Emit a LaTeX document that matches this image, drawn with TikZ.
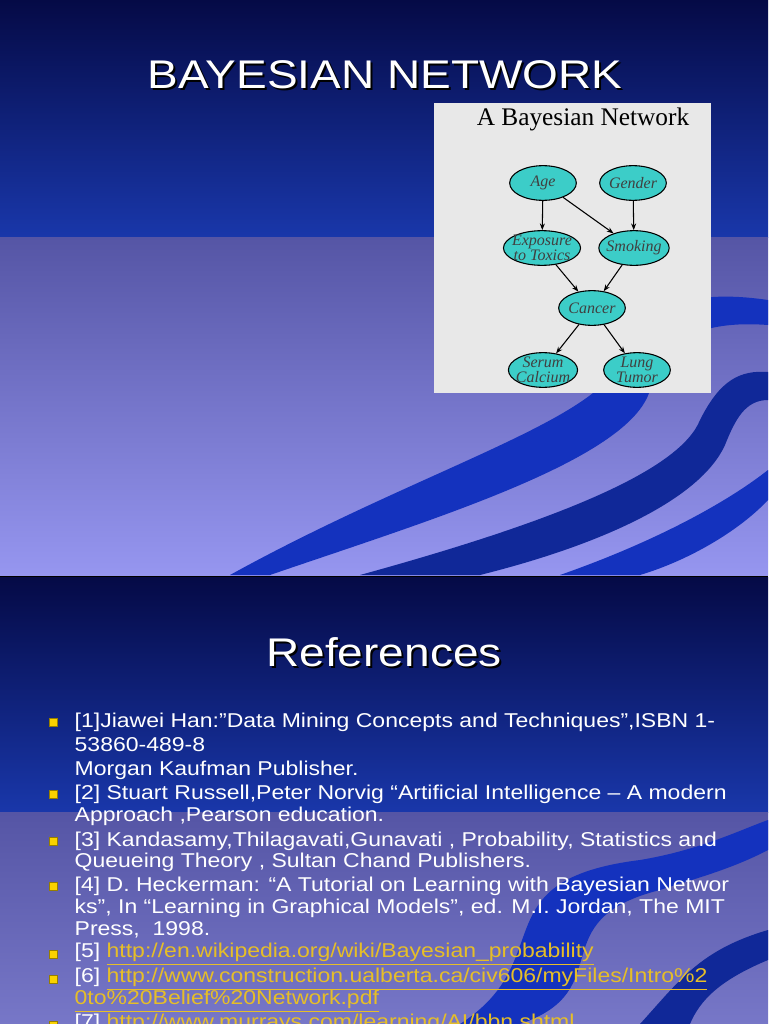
\documentclass[tikz,border=0pt]{standalone}
\usepackage{fontspec}
\setmainfont{Liberation Sans}
\newfontfamily\wide[FakeStretch=1.15]{Liberation Sans}
\newfontfamily\tms{Liberation Serif}
\usetikzlibrary{shapes.geometric,arrows.meta}
\definecolor{navyA}{RGB}{5,10,70}
\definecolor{navyB}{RGB}{25,55,170}
\definecolor{peri1}{RGB}{85,85,165}
\definecolor{peri2}{RGB}{150,150,240}
\definecolor{swoosh}{RGB}{20,50,190}
\definecolor{teal}{RGB}{60,205,200}
\definecolor{linkc}{RGB}{230,190,40}
\definecolor{bul}{RGB}{250,210,0}
\tikzset{
 bn/.style={ellipse,draw=black,thick,fill=teal,minimum width=50pt,minimum height=26pt,inner sep=-2pt,font=\tms\itshape\fontsize{12}{11}\selectfont,text=black!75,align=center},
 ar/.style={-{Stealth[length=5pt]},thick,black},
 ref/.style={anchor=west,text=white,font=\wide\fontsize{15}{16}\selectfont},
 bsq/.style={fill=bul,draw=bul!60!black,minimum size=6pt,inner sep=0pt},
 ttl/.style={text=white,font=\wide\fontsize{#1}{#1}\selectfont}
}
\begin{document}
\begin{tikzpicture}[x=0.75pt,y=-0.75pt]
\useasboundingbox (0,0) rectangle (768,1024);
\fill[black] (0,0) rectangle (768,1024);
% slide 1
\shade[top color=navyA,bottom color=navyB] (0,0) rectangle (768,237);
\shade[top color=peri1,bottom color=peri2] (0,237) rectangle (768,575);
\fill[swoosh] (230,575) .. controls (420,470) and (600,420) .. (620,360) .. controls (640,300) and (700,290) .. (768,300) -- (768,325) .. controls (700,320) and (660,340) .. (650,390) .. controls (630,460) and (430,520) .. (270,575) -- cycle;
\fill[swoosh!80!black] (360,575) .. controls (560,520) and (680,470) .. (700,420) .. controls (720,380) and (740,370) .. (768,372) -- (768,400) .. controls (745,400) and (735,420) .. (725,445) .. controls (700,500) and (600,545) .. (480,575) -- cycle;
\fill[swoosh] (560,575) .. controls (660,540) and (730,500) .. (768,470) -- (768,500) .. controls (740,530) and (690,560) .. (640,575) -- cycle;
\node[ttl=30,text=black] (t1s) at (387,77) {BAYESIAN NETWORK};
\node[ttl=30] (t1) at (385,75) {BAYESIAN NETWORK};
% inset
\fill[gray!18] (434,103) rectangle (711,393);
\node[font=\tms\fontsize{19}{19}\selectfont] (it) at (583,119) {A Bayesian Network};
\node[bn] (age) at (543,183) {Age};
\node[bn] (gen) at (633,183) {Gender};
\node[bn] (exp) at (542,248) {Exposure\\to Toxics};
\node[bn] (smk) at (634,248) {Smoking};
\node[bn] (can) at (592,308) {Cancer};
\node[bn] (ser) at (543,370) {Serum\\Calcium};
\node[bn] (lun) at (637,370) {Lung\\Tumor};
\draw[ar] (age) -- (exp);
\draw[ar] (age) -- (smk);
\draw[ar] (gen) -- (smk);
\draw[ar] (exp) -- (can);
\draw[ar] (smk) -- (can);
\draw[ar] (can) -- (ser);
\draw[ar] (can) -- (lun);
% slide 2
\begin{scope}
\clip (0,577) rectangle (768,1024);
\shade[top color=navyA,bottom color=navyB] (0,577) rectangle (768,812);
\shade[top color=peri1,bottom color=peri2!90!black] (0,812) rectangle (768,1124);
\fill[swoosh] (460,1024) .. controls (560,960) and (480,880) .. (640,860) .. controls (700,850) and (740,830) .. (768,820) -- (768,850) .. controls (730,870) and (690,880) .. (660,890) .. controls (540,920) and (620,990) .. (520,1024) -- cycle;
\fill[swoosh!80!black] (640,1024) .. controls (680,980) and (700,950) .. (768,930) -- (768,960) .. controls (720,980) and (700,1000) .. (690,1024) -- cycle;
\node[ttl=30,text=black] (t2s) at (386,654) {References};
\node[ttl=30] (t2) at (384,652) {References};
\foreach \y/\n in {722/b1,794/b2,841/b3,886/b4,954/b5,979/b6,1025/b7} \node[bsq] (\n) at (53,\y) {};
\node[ref] (r1) at (70,722) {[1]Jiawei Han:”Data Mining Concepts and Techniques”,ISBN 1-};
\node[ref] (r1b) at (70,745) {53860-489-8};
\node[ref] (r1c) at (70,770) {Morgan Kaufman Publisher.};
\node[ref] (r2) at (70,794) {[2] Stuart Russell,Peter Norvig “Artificial Intelligence – A modern};
\node[ref] (r2b) at (70,816) {Approach ,Pearson education.};
\node[ref] (r3) at (70,841) {[3] Kandasamy,Thilagavati,Gunavati , Probability, Statistics and};
\node[ref] (r3b) at (70,862) {Queueing Theory , Sultan Chand Publishers.};
\node[ref] (r4) at (70,886) {[4] D. Heckerman: “A Tutorial on Learning with Bayesian Networ};
\node[ref] (r4b) at (70,908) {ks”, In “Learning in Graphical Models”, ed. M.I. Jordan, The MIT};
\node[ref] (r4c) at (70,930) {Press,\ \ 1998.};
\node[ref] (r5) at (70,954) {[5] \textcolor{linkc}{\underline{http://en.wikipedia.org/wiki/Bayesian\_probability}}};
\node[ref] (r6) at (70,979) {[6] \textcolor{linkc}{\underline{http://www.construction.ualberta.ca/civ606/myFiles/Intro\%2}}};
\node[ref,text=linkc] (r6b) at (70,1001) {\underline{0to\%20Belief\%20Network.pdf}};
\node[ref] (r7) at (70,1025) {[7] \textcolor{linkc}{\underline{http://www.murrays.com/learning/AI/bbn.shtml}}};
\end{scope}
\end{tikzpicture}
\end{document}
